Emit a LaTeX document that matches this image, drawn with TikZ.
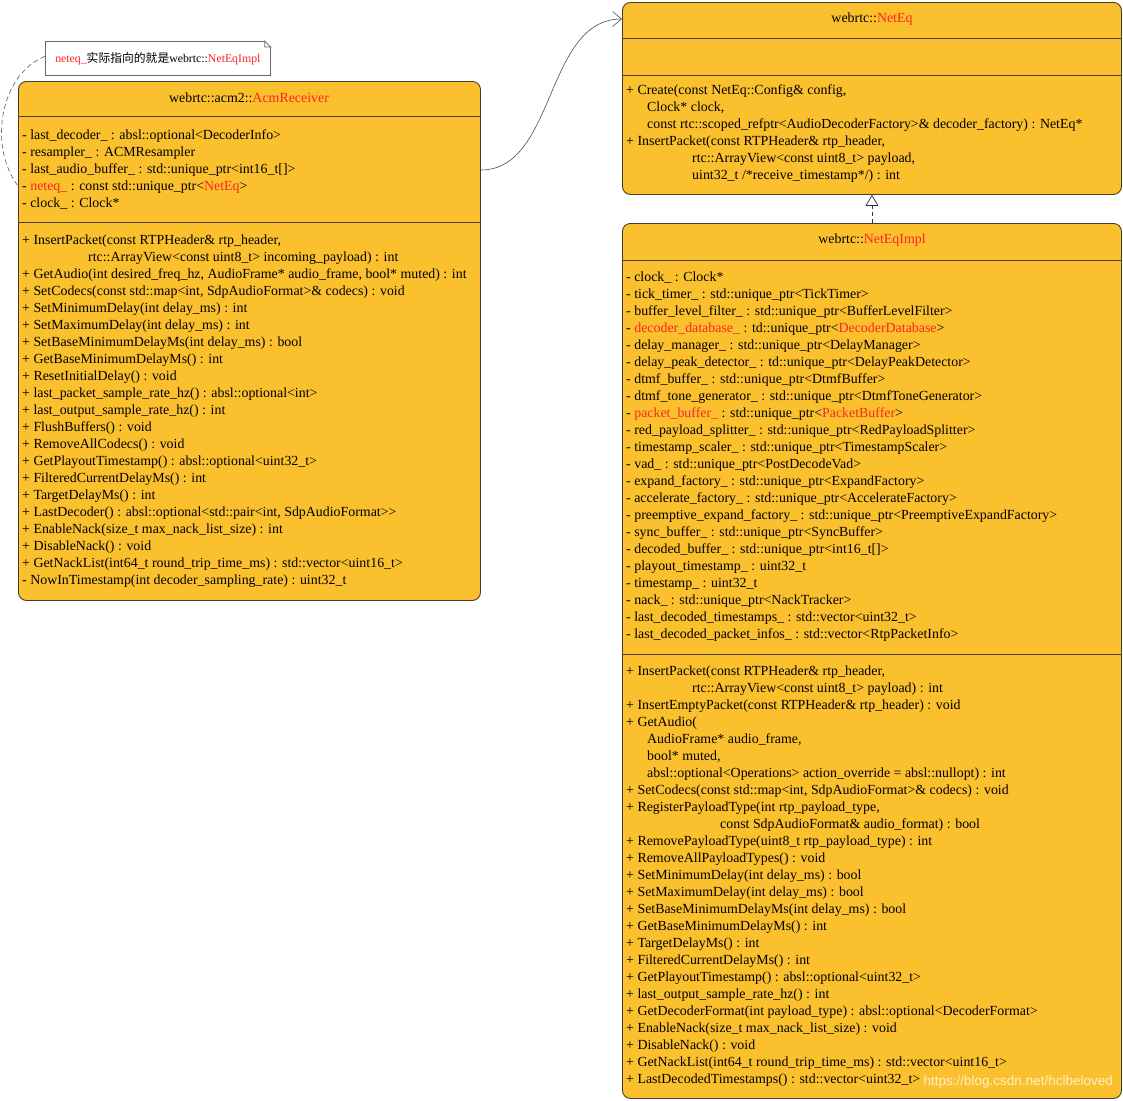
\documentclass[tikz,border=0pt]{standalone}
\usepackage{fontspec}
\setmainfont{Liberation Serif}
\newfontfamily\cjk{Noto Sans CJK SC}
\newfontfamily\wmfont{Liberation Sans}
\usepackage{tikz}
\usetikzlibrary{arrows.meta}
\definecolor{umlfill}{RGB}{251,192,45}
\definecolor{umlred}{RGB}{255,35,35}
\definecolor{umlline}{RGB}{70,62,40}
\newcommand\redtxt[1]{\textcolor{umlred}{#1}}
\newcommand\umlfont{\fontsize{13.9}{16}\selectfont}
\tikzstyle{classbox}=[rectangle,draw=umlline,fill=umlfill,rounded corners=8pt,line width=0.9pt,inner sep=0pt,anchor=north west]
\tikzstyle{member}=[anchor=base west,inner sep=0pt,font=\umlfont]
\tikzstyle{title}=[inner sep=0pt,font=\umlfont]
\tikzstyle{notebox}=[rectangle,draw=black!60,fill=white,line width=0.7pt,inner sep=0pt,anchor=north west,minimum width=225pt,minimum height=34pt]
\tikzstyle{assoc}=[draw=black!70,line width=0.6pt,-{Straight Barb[length=9pt,width=15pt]}]
\tikzstyle{realize}=[draw=black!80,line width=0.7pt,dash pattern=on 4pt off 3pt,-{Triangle[open,length=11pt,width=13pt,fill=white]}]

\begin{document}
\begin{tikzpicture}[x=1pt,y=-1pt]
  \useasboundingbox (0,0) rectangle (1123,1100);

  % class boxes
  \node[classbox,minimum width=462pt,minimum height=519pt] (acm) at (18,81) {};
  \node[classbox,minimum width=499pt,minimum height=192pt] (neteq) at (622,2) {};
  \node[classbox,minimum width=499pt,minimum height=875pt] (impl) at (622,223) {};

  % compartments
  \draw[umlline,line width=0.9pt] (acm.west |- 0,116) -- (acm.east |- 0,116);
  \draw[umlline,line width=0.9pt] (acm.west |- 0,222) -- (acm.east |- 0,222);
  \draw[umlline,line width=0.9pt] (neteq.west |- 0,38) -- (neteq.east |- 0,38);
  \draw[umlline,line width=0.9pt] (neteq.west |- 0,75) -- (neteq.east |- 0,75);
  \draw[umlline,line width=0.9pt] (impl.west |- 0,260) -- (impl.east |- 0,260);
  \draw[umlline,line width=0.9pt] (impl.west |- 0,654) -- (impl.east |- 0,654);

  % titles
  \node[title] (acmtitle) at (249,98) {webrtc::acm2::\redtxt{AcmReceiver}};
  \node[title] (neteqtitle) at (872,19) {webrtc::\redtxt{NetEq}};
  \node[title] (impltitle) at (872,240) {webrtc::\redtxt{NetEqImpl}};

  % webrtc::acm2::AcmReceiver
  \foreach \txt [count=\i from 0] in {
    {- last\_decoder\_ : absl::optional<DecoderInfo>},
    {- resampler\_ : ACMResampler},
    {- last\_audio\_buffer\_ : std::unique\_ptr<int16\_t[]>},
    {- \redtxt{neteq\_} : const std::unique\_ptr<\redtxt{NetEq}>},
    {- clock\_ : Clock*}}
    \node[member] (acmattr\i) at (22,139+17*\i) {\txt};
  \foreach \txt [count=\i from 0] in {
    {+ InsertPacket(const RTPHeader\& rtp\_header,},
    {\hspace*{66pt}rtc::ArrayView<const uint8\_t> incoming\_payload) : int},
    {+ GetAudio(int desired\_freq\_hz, AudioFrame* audio\_frame, bool* muted) : int},
    {+ SetCodecs(const std::map<int, SdpAudioFormat>\& codecs) : void},
    {+ SetMinimumDelay(int delay\_ms) : int},
    {+ SetMaximumDelay(int delay\_ms) : int},
    {+ SetBaseMinimumDelayMs(int delay\_ms) : bool},
    {+ GetBaseMinimumDelayMs() : int},
    {+ ResetInitialDelay() : void},
    {+ last\_packet\_sample\_rate\_hz() : absl::optional<int>},
    {+ last\_output\_sample\_rate\_hz() : int},
    {+ FlushBuffers() : void},
    {+ RemoveAllCodecs() : void},
    {+ GetPlayoutTimestamp() : absl::optional<uint32\_t>},
    {+ FilteredCurrentDelayMs() : int},
    {+ TargetDelayMs() : int},
    {+ LastDecoder() : absl::optional<std::pair<int, SdpAudioFormat>{}>},
    {+ EnableNack(size\_t max\_nack\_list\_size) : int},
    {+ DisableNack() : void},
    {+ GetNackList(int64\_t round\_trip\_time\_ms) : std::vector<uint16\_t>},
    {- NowInTimestamp(int decoder\_sampling\_rate) : uint32\_t}}
    \node[member] (acmop\i) at (22,244+17*\i) {\txt};

  % webrtc::NetEq
  \foreach \txt [count=\i from 0] in {
    {+ Create(const NetEq::Config\& config,},
    {\hspace*{21pt}Clock* clock,},
    {\hspace*{21pt}const rtc::scoped\_refptr<AudioDecoderFactory>\& decoder\_factory) : NetEq*},
    {+ InsertPacket(const RTPHeader\& rtp\_header,},
    {\hspace*{66pt}rtc::ArrayView<const uint8\_t> payload,},
    {\hspace*{66pt}uint32\_t /*receive\_timestamp*/) : int}}
    \node[member] (neteqop\i) at (626,94+17*\i) {\txt};

  % webrtc::NetEqImpl
  \foreach \txt [count=\i from 0] in {
    {- clock\_ : Clock*},
    {- tick\_timer\_ : std::unique\_ptr<TickTimer>},
    {- buffer\_level\_filter\_ : std::unique\_ptr<BufferLevelFilter>},
    {- \redtxt{decoder\_database\_} : td::unique\_ptr<\redtxt{DecoderDatabase}>},
    {- delay\_manager\_ : std::unique\_ptr<DelayManager>},
    {- delay\_peak\_detector\_ : td::unique\_ptr<DelayPeakDetector>},
    {- dtmf\_buffer\_ : std::unique\_ptr<DtmfBuffer>},
    {- dtmf\_tone\_generator\_ : std::unique\_ptr<DtmfToneGenerator>},
    {- \redtxt{packet\_buffer\_} : std::unique\_ptr<\redtxt{PacketBuffer}>},
    {- red\_payload\_splitter\_ : std::unique\_ptr<RedPayloadSplitter>},
    {- timestamp\_scaler\_ : std::unique\_ptr<TimestampScaler>},
    {- vad\_ : std::unique\_ptr<PostDecodeVad>},
    {- expand\_factory\_ : std::unique\_ptr<ExpandFactory>},
    {- accelerate\_factory\_ : std::unique\_ptr<AccelerateFactory>},
    {- preemptive\_expand\_factory\_ : std::unique\_ptr<PreemptiveExpandFactory>},
    {- sync\_buffer\_ : std::unique\_ptr<SyncBuffer>},
    {- decoded\_buffer\_ : std::unique\_ptr<int16\_t[]>},
    {- playout\_timestamp\_ : uint32\_t},
    {- timestamp\_ : uint32\_t},
    {- nack\_ : std::unique\_ptr<NackTracker>},
    {- last\_decoded\_timestamps\_ : std::vector<uint32\_t>},
    {- last\_decoded\_packet\_infos\_ : std::vector<RtpPacketInfo>}}
    \node[member] (implattr\i) at (626,281+17*\i) {\txt};
  \foreach \txt [count=\i from 0] in {
    {+ InsertPacket(const RTPHeader\& rtp\_header,},
    {\hspace*{66pt}rtc::ArrayView<const uint8\_t> payload) : int},
    {+ InsertEmptyPacket(const RTPHeader\& rtp\_header) : void},
    {+ GetAudio(},
    {\hspace*{21pt}AudioFrame* audio\_frame,},
    {\hspace*{21pt}bool* muted,},
    {\hspace*{21pt}absl::optional<Operations> action\_override = absl::nullopt) : int},
    {+ SetCodecs(const std::map<int, SdpAudioFormat>\& codecs) : void},
    {+ RegisterPayloadType(int rtp\_payload\_type,},
    {\hspace*{94pt}const SdpAudioFormat\& audio\_format) : bool},
    {+ RemovePayloadType(uint8\_t rtp\_payload\_type) : int},
    {+ RemoveAllPayloadTypes() : void},
    {+ SetMinimumDelay(int delay\_ms) : bool},
    {+ SetMaximumDelay(int delay\_ms) : bool},
    {+ SetBaseMinimumDelayMs(int delay\_ms) : bool},
    {+ GetBaseMinimumDelayMs() : int},
    {+ TargetDelayMs() : int},
    {+ FilteredCurrentDelayMs() : int},
    {+ GetPlayoutTimestamp() : absl::optional<uint32\_t>},
    {+ last\_output\_sample\_rate\_hz() : int},
    {+ GetDecoderFormat(int payload\_type) : absl::optional<DecoderFormat>},
    {+ EnableNack(size\_t max\_nack\_list\_size) : void},
    {+ DisableNack() : void},
    {+ GetNackList(int64\_t round\_trip\_time\_ms) : std::vector<uint16\_t>},
    {+ LastDecodedTimestamps() : std::vector<uint32\_t>}}
    \node[member] (implop\i) at (626,675+17*\i) {\txt};

  % note
  \node[notebox] (note) at (45,41) {};
  \node[font=\fontsize{11.8}{13}\selectfont,inner sep=0pt] (notetext) at (note.center)
    {\redtxt{neteq\_}{\cjk 实际指向的就是}webrtc::\redtxt{NetEqImpl}};
  \fill[white] ([xshift=-6pt]note.north east) -- ([xshift=1pt,yshift=1pt]note.north east) -- ([yshift=-6pt]note.north east) -- cycle;
  \draw[black!60,line width=0.7pt] ([xshift=-6pt]note.north east) -- ([xshift=-6pt,yshift=-6pt]note.north east)
    -- ([yshift=-6pt]note.north east) -- cycle;

  % connectors
  \draw[assoc] ([yshift=-89pt]acm.north east) .. controls +(75pt,0pt) and +(-77pt,0pt) .. ([yshift=-17pt]neteq.north west);
  \draw[realize] (impl.north) -- (neteq.south);
  \draw[black!65,line width=0.6pt,dash pattern=on 5pt off 3pt] ([yshift=2pt]note.west)
    .. controls +(-45pt,-18pt) and +(-30pt,40pt) .. ([yshift=-105pt]acm.north west);

  % watermark
  \node[font=\wmfont\fontsize{13.5}{15}\selectfont,text=white,opacity=0.75,anchor=base east,inner sep=0pt] (mark) at (1113,1085) {https://blog.csdn.net/hclbeloved};
\end{tikzpicture}
\end{document}
